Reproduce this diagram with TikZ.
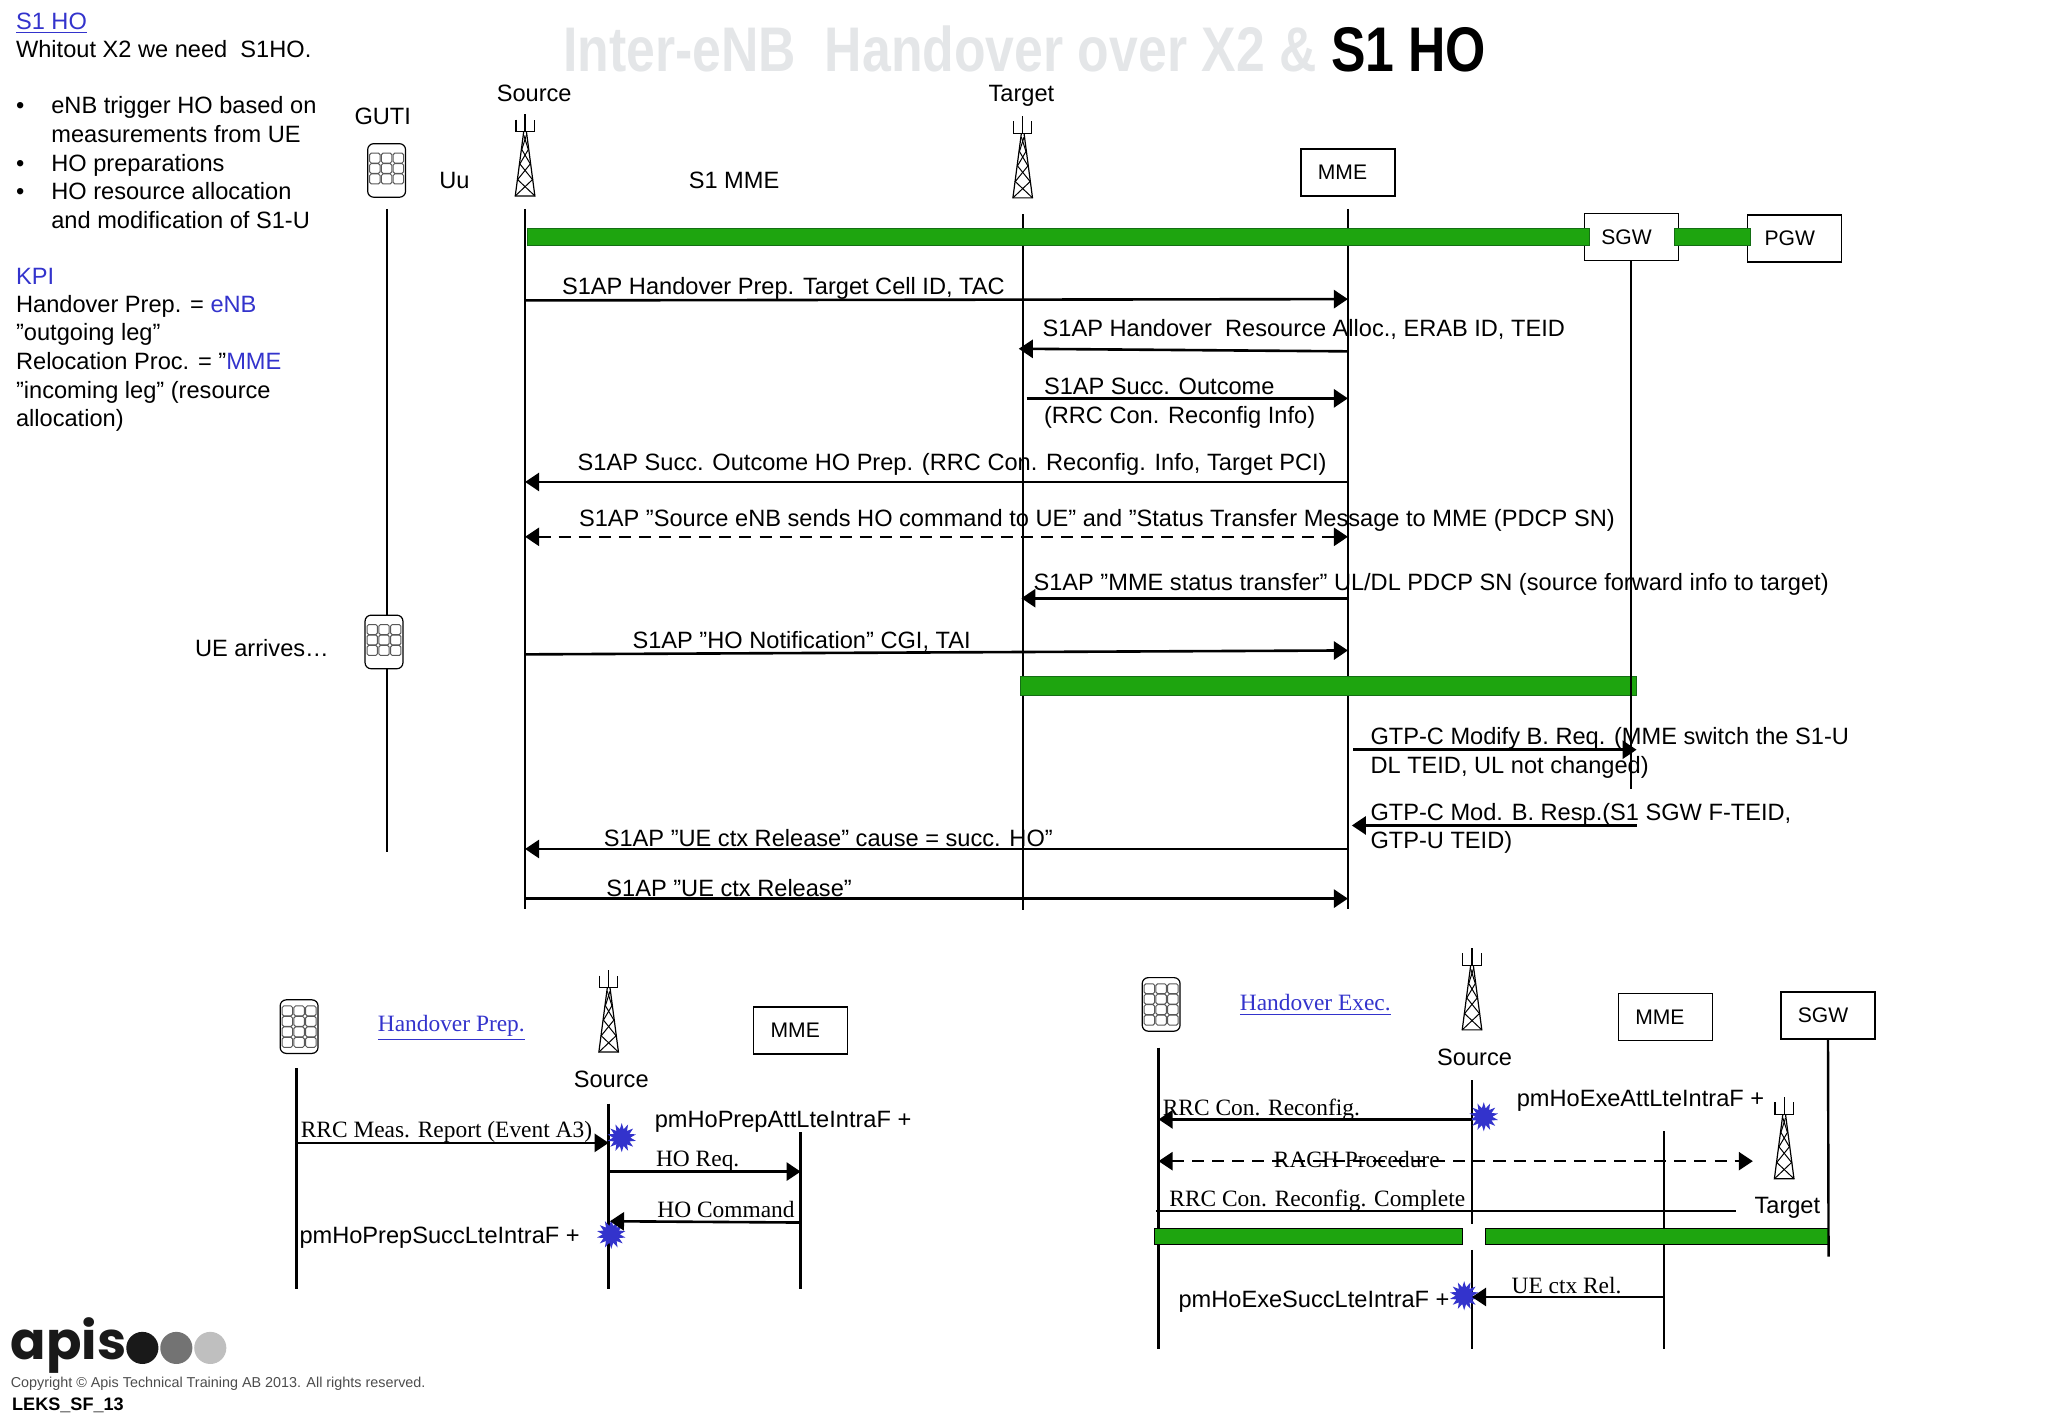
\documentclass[tikz,border=0pt]{standalone}
\usepackage{fontspec}
\setmainfont{Liberation Sans}
\newfontfamily\bookfont{Liberation Serif}
\newfontfamily\titlefont[FakeStretch=0.82]{Liberation Sans}
\newfontfamily\logofont{Poppins}
\usepackage{xcolor}
\usetikzlibrary{arrows.meta}
\usetikzlibrary{shapes.geometric}
\definecolor{mgreen}{RGB}{30,165,15}
\definecolor{mdgreen}{RGB}{20,110,20}
\definecolor{mblue}{RGB}{51,51,204}
\definecolor{mpale}{RGB}{228,230,232}
\tikzset{pics/phone/.style={code={
    \draw[fill=white, rounded corners=3pt, line width=.6pt] (-14.5,-20.5) rectangle (14.5,20.5);
    \foreach \col in {-9,0,9} \foreach \row in {#1}
        \draw[gray!70!black, rounded corners=.8pt, line width=.5pt] (\col-4,\row-3.8) rectangle (\col+4,\row+3.8);
}}}
\tikzset{pics/tower/.style={code={
    \draw[line width=.6pt] (0,0) -- (0,13);
    \draw[line width=.6pt] (-7,4) -- (-7,13) -- (7,13) -- (7,4);
    \draw[line width=.6pt] (-1,13) -- (-7.5,62.5) -- (7.5,62.5) -- (1,13);
    \draw[line width=.5pt] (-1,16) -- (2.5,27) -- (-4,38) -- (5.7,50) -- (-7.5,62.5);
    \draw[line width=.5pt] (1,16) -- (-2.5,27) -- (4,38) -- (-5.7,50) -- (7.5,62.5);
}}}
\begin{document}
\begin{tikzpicture}[x=.65pt, y=-.65pt,
    txt/.style={anchor=base west, inner sep=0pt, align=left, font=\fontsize{11.75}{14.3}\selectfont},
    ctr/.style={txt, anchor=base},
    book/.style={txt, font=\bookfont\fontsize{11.65}{14}\selectfont},
    link/.style={book, text=mblue},
    box/.style={draw, line width=.7pt, fill=white, inner xsep=8.45pt, inner ysep=0pt, text width=29.9pt, align=left, minimum height=23.4pt, font=\fontsize{10.5}{12}\selectfont},
    life/.style={line width=.9pt},
    lifeb/.style={line width=1.2pt},
    msg/.style={-{Triangle[length=7pt,width=9pt]}, line width=1.3pt},
    msg_both/.style={{Triangle[length=7pt,width=9pt]}-{Triangle[length=7pt,width=9pt]}, line width=1.3pt, dash pattern=on 6pt off 4pt},
    tunnel/.style={draw=mdgreen, line width=.3pt, fill=mgreen},
    tunnelb/.style={fill=mgreen},
    burst/.style={star, star points=14, star point ratio=1.7, fill=mblue, inner sep=0pt, minimum size=14.5pt},
]
\useasboundingbox (0,0) rectangle (1568,1085.7);

% notes on the left
\node[txt] (note_link) at (12,22.5) {\textcolor{mblue}{\underline{S1 HO}}};
\node[txt] (note_x2) at (12,44) {Whitout X2 we need\ \ S1HO.};
\node[txt] (note_b1) at (12,87) {•};
\node[txt] (note_l1) at (39,87) {eNB trigger HO based on};
\node[txt] (note_l2) at (39,109) {measurements from UE};
\node[txt] (note_b2) at (12,131) {•};
\node[txt] (note_l3) at (39,131) {HO preparations};
\node[txt] (note_b3) at (12,153) {•};
\node[txt] (note_l4) at (39,153) {HO resource allocation};
\node[txt] (note_l5) at (39,175) {and modification of S1-U};
\node[txt] (note_kpi) at (12,217.5) {\textcolor{mblue}{KPI}};
\node[txt] (note_k1) at (12,239.5) {Handover Prep. = \textcolor{mblue}{eNB}};
\node[txt] (note_k2) at (12,261) {”outgoing leg”};
\node[txt] (note_k3) at (12,283) {Relocation Proc. = ”\textcolor{mblue}{MME}};
\node[txt] (note_k4) at (12,305) {”incoming leg” (resource};
\node[txt] (note_k5) at (12,326.5) {allocation)};

\node[txt, font=\titlefont\bfseries\fontsize{31.4}{34}\selectfont] (title) at (431,55) {\textcolor{mpale}{Inter-eNB\ \ Handover over X2 \& }S1 HO};

% main sequence
\pic (ue_phone) at (296,130.5) {phone={-9.5,-1.5,6.5}};
\pic (source_tower) at (402,87.5) {tower};
\pic (target_tower) at (783,89) {tower};
\node[box] (mme) at (1032,132) {MME};
\node[box] (sgw) at (1249,181.5) {SGW};
\node[box] (pgw) at (1374,182.5) {PGW};

\node[ctr] (guti) at (293,95) {GUTI};
\node[ctr] (source) at (409,78) {Source};
\node[ctr] (target) at (782,78) {Target};
\node[ctr] (uu) at (348,144) {Uu};
\node[ctr] (s1_mme) at (562,144) {S1 MME};

\coordinate (ue_top) at (296,160);
\coordinate (ue_end) at (296,652);
\coordinate (source_top) at (402,160);
\coordinate (source_end) at (402,696);
\coordinate (target_top) at (783,164);
\coordinate (target_end) at (783,697);
\coordinate (mme_top) at (1032,160);
\coordinate (mme_end) at (1032,696);
\coordinate (sgw_end) at (1249,604);

\draw[life] (ue_top) -- (ue_end);
\draw[life] (source_top) -- (source_end);
\draw[life] (target_top) -- (target_end);
\draw[life] (mme_top) -- (mme_end);

\draw[tunnel] (403.5,174.5) rectangle (1217,188);
\draw[tunnel] (1282,175) rectangle (1340,188);
\draw[tunnel] (781,518) rectangle (1253,532);
\draw[life] (sgw) -- (sgw_end);

\pic (ue_phone_new) at (294,491.5) {phone={-9.5,-1.5,6.5}};
\node[txt] (ue_arrives) at (149,503) {UE arrives…};

\node[txt] (m_prep) at (430,225.5) {S1AP Handover Prep. Target Cell ID, TAC};
\node[txt] (m_alloc) at (798,258) {S1AP Handover\ \ Resource Alloc., ERAB ID, TEID};
\node[txt] (m_succ) at (799,302) {S1AP Succ. Outcome};
\node[txt] (m_succ2) at (799,324) {(RRC Con. Reconfig Info)};
\node[txt] (m_hoprep) at (442,360) {S1AP Succ. Outcome HO Prep. (RRC Con. Reconfig. Info, Target PCI)};
\node[txt] (m_cmd) at (443,403) {S1AP ”Source eNB sends HO command to UE” and ”Status Transfer Message to MME (PDCP SN)};
\node[txt] (m_status) at (791,452) {S1AP ”MME status transfer” UL/DL PDCP SN (source forward info to target)};
\node[txt] (m_notify) at (484,496.5) {S1AP ”HO Notification” CGI, TAI};
\node[txt] (m_mod) at (1049,570) {GTP-C Modify B. Req. (MME switch the S1-U};
\node[txt] (m_mod2) at (1049,592) {DL TEID, UL not changed)};
\node[txt] (m_resp) at (1049,628) {GTP-C Mod. B. Resp.(S1 SGW F-TEID,};
\node[txt] (m_resp2) at (1049,650) {GTP-U TEID)};
\node[txt] (m_rel) at (462,648) {S1AP ”UE ctx Release” cause = succ. HO”};
\node[txt] (m_rel2) at (464,686) {S1AP ”UE ctx Release”};

\coordinate (a1s) at (402,230);
\coordinate (a1e) at (1032,229);
\coordinate (a2s) at (1032,269);
\coordinate (a2e) at (780,267);
\coordinate (a3s) at (786,305);
\coordinate (a3e) at (1032,305);
\coordinate (a4s) at (1032,369);
\coordinate (a4e) at (402,369);
\coordinate (a5s) at (402,411);
\coordinate (a5e) at (1032,411);
\coordinate (a6s) at (1032,458);
\coordinate (a6e) at (782,458);
\coordinate (a7s) at (402,501);
\coordinate (a7e) at (1032,498);
\coordinate (a8s) at (1036,574);
\coordinate (a8e) at (1253,574);
\coordinate (a9s) at (1253,632);
\coordinate (a9e) at (1035,632);
\coordinate (a10s) at (1032,650);
\coordinate (a10e) at (402,650);
\coordinate (a11s) at (402,688);
\coordinate (a11e) at (1032,688);

\draw[msg] (a1s) -- (a1e);
\draw[msg] (a2s) -- (a2e);
\draw[msg] (a3s) -- (a3e);
\draw[msg] (a4s) -- (a4e);
\draw[msg_both] (a5s) -- (a5e);
\draw[msg] (a6s) -- (a6e);
\draw[msg] (a7s) -- (a7e);
\draw[msg] (a8s) -- (a8e);
\draw[msg] (a9s) -- (a9e);
\draw[msg] (a10s) -- (a10e);
\draw[msg] (a11s) -- (a11e);

% handover preparation
\pic (prep_phone) at (229,786) {phone={-12,-4,4,12}};
\pic (prep_tower) at (466,743) {tower};
\node[box] (prep_mme) at (613,789) {MME};
\node[link] (prep_link) at (289,790) {\underline{Handover Prep.}};
\node[ctr] (prep_source) at (468,832.5) {Source};

\coordinate (prep_ue_top) at (227,818);
\coordinate (prep_ue_end) at (227,987);
\coordinate (prep_source_top) at (466,845);
\coordinate (prep_source_end) at (466,987);
\coordinate (prep_mme_top) at (613,867);
\coordinate (prep_mme_end) at (613,987);

\draw[lifeb] (prep_ue_top) -- (prep_ue_end);
\draw[lifeb] (prep_source_top) -- (prep_source_end);
\draw[lifeb] (prep_mme_top) -- (prep_mme_end);

\node[burst] (prep_burst) at (476,871) {};
\node[burst] (prep_burst2) at (468,945) {};
\node[book] (p_meas) at (230,871) {RRC Meas. Report (Event A3)};
\node[txt] (p_att) at (501,863) {pmHoPrepAttLteIntraF +};
\node[book] (p_req) at (502,893) {HO Req.};
\node[book] (p_cmd) at (503,932) {HO Command};
\node[txt] (p_succ) at (229,952) {pmHoPrepSuccLteIntraF +};

\coordinate (p1s) at (227,875);
\coordinate (p1e) at (466,875);
\coordinate (p2s) at (465,897);
\coordinate (p2e) at (613,897);
\coordinate (p3s) at (613,936);
\coordinate (p3e) at (467,935);

\draw[msg] (p1s) -- (p1e);
\draw[msg] (p2s) -- (p2e);
\draw[msg] (p3s) -- (p3e);

% handover execution
\pic (exec_phone) at (889,769) {phone={-12,-4,4,12}};
\pic (exec_tower) at (1127,726) {tower};
\pic (exec_target_tower) at (1366,840) {tower};
\node[box] (exec_mme) at (1275,778.5) {MME};
\node[box] (exec_sgw) at (1399.5,777.5) {SGW};
\node[link] (exec_link) at (949,774) {\underline{Handover Exec.}};
\node[ctr] (exec_source) at (1129,816) {Source};
\node[txt] (exec_target) at (1343,929) {Target};

\coordinate (exec_ue_top) at (887,802);
\coordinate (exec_ue_end) at (887,1033);
\coordinate (exec_source_top) at (1127,827);
\coordinate (exec_source_gap) at (1127,937);
\coordinate (exec_source_low) at (1127,957);
\coordinate (exec_source_end) at (1127,1033);
\coordinate (exec_mme_top) at (1274,866);
\coordinate (exec_mme_end) at (1274,1033);
\coordinate (exec_sgw_end) at (1400,962);

\draw[lifeb] (exec_ue_top) -- (exec_ue_end);
\draw[lifeb] (exec_source_top) -- (exec_source_gap);
\draw[lifeb] (exec_source_low) -- (exec_source_end);
\draw[lifeb] (exec_mme_top) -- (exec_mme_end);
\draw[tunnelb] (884,940.5) rectangle (1120,953);
\draw[tunnelb] (1137,940.5) rectangle (1400,953);
\draw[lifeb] (exec_sgw) -- (exec_sgw_end);

\node[burst] (exec_burst) at (1136,855) {};
\node[burst] (exec_burst2) at (1121,992) {};
\node[book] (e_reconf) at (890,854) {RRC Con. Reconfig.};
\node[txt] (e_att) at (1161,847) {pmHoExeAttLteIntraF +};
\node[book] (e_rach) at (975,894) {RACH Procedure};
\node[book] (e_done) at (895,924) {RRC Con. Reconfig. Complete};
\node[book] (e_rel) at (1157,990) {UE ctx Rel.};
\node[txt] (e_succ) at (902,1001) {pmHoExeSuccLteIntraF +};

\coordinate (e1s) at (1127,857);
\coordinate (e1e) at (887,857);
\coordinate (e2s) at (887,889);
\coordinate (e2e) at (1342,889);
\coordinate (e3s) at (885,927);
\coordinate (e3e) at (1329,927);
\coordinate (e4s) at (1274,993);
\coordinate (e4e) at (1127,993);

\draw[msg] (e1s) -- (e1e);
\draw[msg_both] (e2s) -- (e2e);
\draw[lifeb] (e3s) -- (e3e);
\draw[msg] (e4s) -- (e4e);

% logo in the corner
\node[txt, font=\logofont\bfseries\fontsize{26}{30}\selectfont, text=black!90] (logo) at (8,1041) {apis};
\fill[black!90] (109,1032) circle (12.3);
\fill[black!55] (135,1032) circle (12.3);
\fill[black!25] (161,1032) circle (12.3);
\node[txt, font=\fontsize{7.15}{9}\selectfont, text=black!70] (copyright) at (8,1062) {Copyright © Apis Technical Training AB 2013. All rights reserved.};
\node[txt, font=\bfseries\fontsize{9}{10}\selectfont] (leks) at (9,1080) {LEKS\_SF\_13};
\end{tikzpicture}
\end{document}
